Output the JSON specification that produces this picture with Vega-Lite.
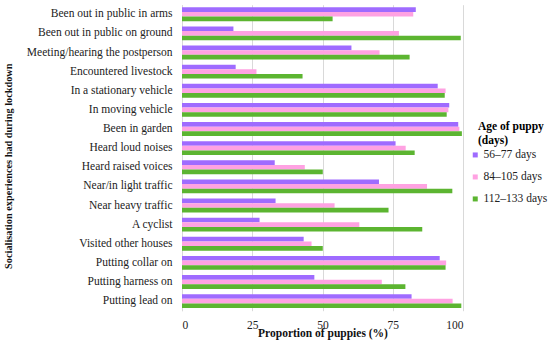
{
  "$schema": "https://vega.github.io/schema/vega-lite/v6.json",
  "width": 281,
  "height": 306,
  "autosize": "none",
  "padding": {"left": 182, "top": 4.7, "right": 87, "bottom": 34.3},
  "config": {
    "font": "Liberation Serif",
    "view": {"stroke": null},
    "axis": {"labelColor": "#222222", "titleColor": "#111111", "labelFont": "Liberation Serif", "titleFont": "Liberation Serif"},
    "legend": {"labelFont": "Liberation Serif", "titleFont": "Liberation Serif"}
  },
  "data": {
    "values": [
      {"experience": "Been out in public in arms", "age": "56–77 days", "pct": 83.2},
      {"experience": "Been out in public in arms", "age": "84–105 days", "pct": 82.3},
      {"experience": "Been out in public in arms", "age": "112–133 days", "pct": 53.6},
      {"experience": "Been out in public on ground", "age": "56–77 days", "pct": 18.3},
      {"experience": "Been out in public on ground", "age": "84–105 days", "pct": 77.2},
      {"experience": "Been out in public on ground", "age": "112–133 days", "pct": 99.2},
      {"experience": "Meeting/hearing the postperson", "age": "56–77 days", "pct": 60.3},
      {"experience": "Meeting/hearing the postperson", "age": "84–105 days", "pct": 70.3},
      {"experience": "Meeting/hearing the postperson", "age": "112–133 days", "pct": 81.0},
      {"experience": "Encountered livestock", "age": "56–77 days", "pct": 19.1},
      {"experience": "Encountered livestock", "age": "84–105 days", "pct": 26.5},
      {"experience": "Encountered livestock", "age": "112–133 days", "pct": 42.9},
      {"experience": "In a stationary vehicle", "age": "56–77 days", "pct": 91.0},
      {"experience": "In a stationary vehicle", "age": "84–105 days", "pct": 93.8},
      {"experience": "In a stationary vehicle", "age": "112–133 days", "pct": 93.5},
      {"experience": "In moving vehicle", "age": "56–77 days", "pct": 95.1},
      {"experience": "In moving vehicle", "age": "84–105 days", "pct": 94.8},
      {"experience": "In moving vehicle", "age": "112–133 days", "pct": 94.2},
      {"experience": "Been in garden", "age": "56–77 days", "pct": 98.3},
      {"experience": "Been in garden", "age": "84–105 days", "pct": 98.7},
      {"experience": "Been in garden", "age": "112–133 days", "pct": 99.6},
      {"experience": "Heard loud noises", "age": "56–77 days", "pct": 76.0},
      {"experience": "Heard loud noises", "age": "84–105 days", "pct": 79.6},
      {"experience": "Heard loud noises", "age": "112–133 days", "pct": 82.8},
      {"experience": "Heard raised voices", "age": "56–77 days", "pct": 33.0},
      {"experience": "Heard raised voices", "age": "84–105 days", "pct": 43.7},
      {"experience": "Heard raised voices", "age": "112–133 days", "pct": 50.1},
      {"experience": "Near/in light traffic", "age": "56–77 days", "pct": 70.1},
      {"experience": "Near/in light traffic", "age": "84–105 days", "pct": 87.2},
      {"experience": "Near/in light traffic", "age": "112–133 days", "pct": 96.2},
      {"experience": "Near heavy traffic", "age": "56–77 days", "pct": 33.3},
      {"experience": "Near heavy traffic", "age": "84–105 days", "pct": 54.3},
      {"experience": "Near heavy traffic", "age": "112–133 days", "pct": 73.5},
      {"experience": "A cyclist", "age": "56–77 days", "pct": 27.6},
      {"experience": "A cyclist", "age": "84–105 days", "pct": 63.1},
      {"experience": "A cyclist", "age": "112–133 days", "pct": 85.5},
      {"experience": "Visited other houses", "age": "56–77 days", "pct": 43.3},
      {"experience": "Visited other houses", "age": "84–105 days", "pct": 46.1},
      {"experience": "Visited other houses", "age": "112–133 days", "pct": 50.1},
      {"experience": "Putting collar on", "age": "56–77 days", "pct": 91.7},
      {"experience": "Putting collar on", "age": "84–105 days", "pct": 94.0},
      {"experience": "Putting collar on", "age": "112–133 days", "pct": 93.8},
      {"experience": "Putting harness on", "age": "56–77 days", "pct": 47.1},
      {"experience": "Putting harness on", "age": "84–105 days", "pct": 71.1},
      {"experience": "Putting harness on", "age": "112–133 days", "pct": 79.5},
      {"experience": "Putting lead on", "age": "56–77 days", "pct": 81.7},
      {"experience": "Putting lead on", "age": "84–105 days", "pct": 96.3},
      {"experience": "Putting lead on", "age": "112–133 days", "pct": 99.4}
    ]
  },
  "mark": {"type": "bar"},
  "encoding": {
    "y": {
      "field": "experience",
      "type": "nominal",
      "sort": ["Been out in public in arms", "Been out in public on ground", "Meeting/hearing the postperson", "Encountered livestock", "In a stationary vehicle", "In moving vehicle", "Been in garden", "Heard loud noises", "Heard raised voices", "Near/in light traffic", "Near heavy traffic", "A cyclist", "Visited other houses", "Putting collar on", "Putting harness on", "Putting lead on"],
      "scale": {"paddingInner": 0.27, "paddingOuter": 0.135},
      "axis": {
        "title": "Socialisation experiences had during lockdown",
        "titleFontSize": 10.3,
        "titleFontWeight": "bold",
        "titleX": -173.7,
        "titleY": 161,
        "titleBaseline": "middle",
        "titleAngle": -90,
        "labelFontSize": 11.5,
        "labelPadding": 10,
        "ticks": false,
        "domain": true,
        "domainColor": "#d9d9d9",
        "domainWidth": 1,
        "labelLimit": 200
      }
    },
    "yOffset": {
      "field": "age",
      "type": "nominal",
      "sort": ["56–77 days", "84–105 days", "112–133 days"]
    },
    "x": {
      "field": "pct",
      "type": "quantitative",
      "scale": {"domain": [0, 100], "nice": false},
      "axis": {
        "title": "Proportion of puppies (%)",
        "titleFontSize": 11.5,
        "titleFontWeight": "bold",
        "titleY": 22.3,
        "titleBaseline": "middle",
        "values": [0, 25, 50, 75, 100],
        "labelFontSize": 11.5,
        "labelPadding": 9,
        "ticks": false,
        "domain": false,
        "grid": true,
        "gridColor": "#d9d9d9",
        "gridWidth": 1
      }
    },
    "color": {
      "field": "age",
      "type": "nominal",
      "scale": {
        "domain": ["56–77 days", "84–105 days", "112–133 days"],
        "range": ["#9f6bff", "#ffa2e2", "#5cb531"]
      },
      "legend": {
        "title": ["Age of puppy", "(days)"],
        "orient": "none",
        "legendX": 296,
        "legendY": 116,
        "padding": 0,
        "titleFontSize": 11.5,
        "titleFontWeight": "bold",
        "titleLineHeight": 14,
        "titlePadding": 3,
        "labelFontSize": 11.5,
        "labelColor": "#222222",
        "symbolType": "square",
        "symbolSize": 25,
        "symbolStrokeWidth": 0,
        "symbolOffset": -8.5,
        "rowPadding": 9,
        "labelOffset": 2.5
      }
    }
  }
}
